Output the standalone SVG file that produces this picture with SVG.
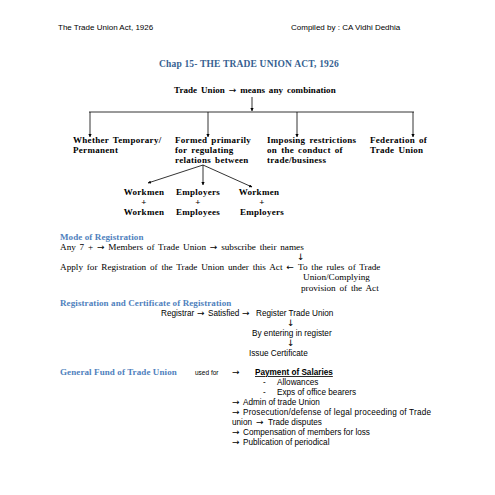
<svg xmlns="http://www.w3.org/2000/svg" width="495" height="495" viewBox="0 0 495 495">
<defs>
<marker id="ah" viewBox="0 0 6 6" refX="5.5" refY="3" markerWidth="4" markerHeight="4" orient="auto"><path d="M0,0 L6,3 L0,6 z" fill="#000"/></marker>
</defs>
<style>
.hd{font-family:"Liberation Sans",Arial,sans-serif;font-size:8px;fill:#000}
.sb{font-family:"Liberation Serif","Times New Roman",serif;font-size:9px;font-weight:bold;letter-spacing:0.3px;word-spacing:1.5px;fill:#000}
.sr{font-family:"Liberation Serif","Times New Roman",serif;font-size:9.2px;word-spacing:1.5px;fill:#000}
.bl{font-family:"Liberation Serif","Times New Roman",serif;font-size:9px;font-weight:bold;letter-spacing:0.1px;fill:#4F81BD}
.ti{font-family:"Liberation Serif","Times New Roman",serif;font-size:9.5px;font-weight:bold;letter-spacing:0.3px;fill:#365F91}
.ca{font-family:"Liberation Sans",Arial,sans-serif;font-size:8.2px;fill:#000}
.ar{font-family:"DejaVu Sans",sans-serif;font-weight:normal;font-size:9px;fill:#000}
.ln{stroke:#000;stroke-width:0.8;fill:none}
</style>
<rect width="495" height="495" fill="#fff"/>
<text class="hd" x="58" y="30">The Trade Union Act, 1926</text>
<text class="hd" x="291" y="30">Compiled by : CA Vidhi Dedhia</text>
<text class="ti" x="159" y="67" textLength="180" lengthAdjust="spacing">Chap 15- THE TRADE UNION ACT, 1926</text>

<g id="root"><text class="sb" x="174" y="93" textLength="162" lengthAdjust="spacing">Trade Union <tspan class="ar">→</tspan> means any combination</text></g>

<g id="connectors">
<line class="ln" x1="252" y1="97" x2="252" y2="111" marker-end="url(#ah)"/>
<line class="ln" x1="89" y1="112" x2="414" y2="112"/>
<line class="ln" x1="90" y1="112" x2="90" y2="137" marker-end="url(#ah)"/>
<line class="ln" x1="208" y1="112" x2="208" y2="137" marker-end="url(#ah)"/>
<line class="ln" x1="297" y1="112" x2="297" y2="137" marker-end="url(#ah)"/>
<line class="ln" x1="413" y1="112" x2="413" y2="137" marker-end="url(#ah)"/>
<line class="ln" x1="203" y1="165" x2="148" y2="183" marker-end="url(#ah)"/>
<line class="ln" x1="203" y1="165" x2="203" y2="185" marker-end="url(#ah)"/>
<line class="ln" x1="203" y1="165" x2="252" y2="187" marker-end="url(#ah)"/>
</g>

<g id="n1"><text class="sb" x="73" y="143">Whether Temporary/</text><text class="sb" x="73" y="153">Permanent</text></g>
<g id="n2"><text class="sb" x="175" y="143">Formed primarily</text><text class="sb" x="175" y="153">for regulating</text><text class="sb" x="175" y="163">relations between</text></g>
<g id="n3"><text class="sb" x="267" y="143">Imposing restrictions</text><text class="sb" x="267" y="153">on the conduct of</text><text class="sb" x="267" y="163">trade/business</text></g>
<g id="n4"><text class="sb" x="370" y="143">Federation of</text><text class="sb" x="370" y="153">Trade Union</text></g>

<g id="c1" text-anchor="middle"><text class="sb" x="144" y="195">Workmen</text><text class="sb" x="144" y="205">+</text><text class="sb" x="144" y="215">Workmen</text></g>
<g id="c2" text-anchor="middle"><text class="sb" x="198" y="195">Employers</text><text class="sb" x="198" y="205">+</text><text class="sb" x="198" y="215">Employees</text></g>
<g id="c3" text-anchor="middle"><text class="sb" x="259" y="195">Workmen</text><text class="sb" x="262" y="205">+</text><text class="sb" x="262" y="215">Employers</text></g>

<text class="bl" x="60" y="240">Mode of Registration</text>
<text class="sr" x="60" y="250">Any 7 + <tspan class="ar">→</tspan> Members of Trade Union <tspan class="ar">→</tspan> subscribe their names</text>
<text class="ar" x="297" y="260">↓</text>
<text class="sr" x="60" y="270">Apply for Registration of the Trade Union under this Act <tspan class="ar">←</tspan></text>
<text class="sr" x="298" y="270">To the rules of Trade</text>
<text class="sr" x="303" y="280">Union/Complying</text>
<text class="sr" x="301" y="291">provision of the Act</text>

<text class="bl" x="60" y="306">Registration and Certificate of Registration</text>
<g id="reg">
<text class="ca" x="161" y="316">Registrar</text>
<text class="ar" x="197" y="316">→</text>
<text class="ca" x="208" y="316">Satisfied</text>
<text class="ar" x="242" y="316">→</text>
<text class="ca" x="256" y="316">Register Trade Union</text>
<text class="ar" x="287" y="326">↓</text>
<text class="ca" x="252" y="336">By entering in register</text>
<text class="ar" x="287" y="346">↓</text>
<text class="ca" x="249" y="356">Issue Certificate</text>
</g>

<text class="bl" x="60" y="375">General Fund of Trade Union</text>
<g id="fund">
<text class="ca" x="195" y="375" style="font-size:6.5px">used for</text>
<text class="ar" x="232" y="375">→</text>
<text class="ca" x="255" y="375" font-weight="bold" text-decoration="underline">Payment of Salaries</text>
<text class="ca" x="263" y="385">-</text><text class="ca" x="277" y="385">Allowances</text>
<text class="ca" x="263" y="395">-</text><text class="ca" x="277" y="395">Exps of office bearers</text>
<text class="ar" x="232" y="405">→</text><text class="ca" x="243" y="405">Admin of trade Union</text>
<text class="ar" x="232" y="415">→</text><text class="ca" x="243" y="415" textLength="188" lengthAdjust="spacing">Prosecution/defense of legal proceeding of Trade</text>
<text class="ca" x="232" y="425">union</text><text class="ar" x="256" y="425">→</text><text class="ca" x="268" y="425">Trade disputes</text>
<text class="ar" x="232" y="435">→</text><text class="ca" x="243" y="435">Compensation of members for loss</text>
<text class="ar" x="232" y="445">→</text><text class="ca" x="243" y="445">Publication of periodical</text>
</g>
</svg>
